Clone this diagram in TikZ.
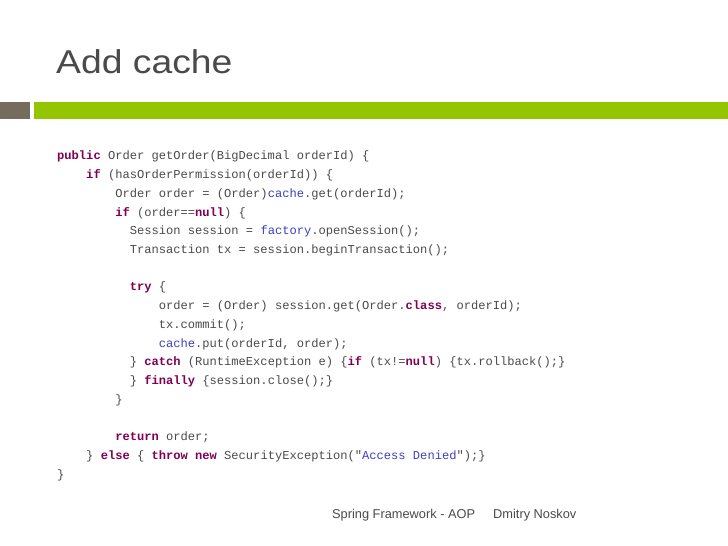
\documentclass[tikz,border=0pt]{standalone}
\usepackage{fontspec}
\setmainfont{Liberation Sans}
\newfontfamily\codefont{Liberation Mono}
\definecolor{kwc}{HTML}{7F0055}
\definecolor{blc}{HTML}{3F3FBF}
\definecolor{txc}{HTML}{4A4A4A}
\definecolor{barg}{HTML}{94C600}
\definecolor{barb}{HTML}{756C5D}
\newcommand{\kw}[1]{\textbf{\color{kwc}#1}}
\newcommand{\bl}[1]{{\color{blc}#1}}
\begin{document}
\begin{tikzpicture}[x=1pt,y=-1pt,
  cl/.style={anchor=base west,inner sep=0pt,font=\codefont\fontsize{12.1}{14}\selectfont,text=txc}]
\useasboundingbox (0,0) rectangle (728,546);
\fill[white] (0,0) rectangle (728,546);
\node[anchor=base west,inner sep=0pt,font=\fontsize{33}{36}\selectfont,text=txc,xscale=1.13] (title) at (56,73) {Add cache};
\fill[barb] (0,102) rectangle (30,119);
\fill[barg] (34,102) rectangle (728,119);
\def\cw{7.26}
\node[cl] (l1) at (57,159) {\kw{public} Order getOrder(BigDecimal orderId) \{};
\node[cl] (l2) at (57+4*\cw,178) {\kw{if} (hasOrderPermission(orderId)) \{};
\node[cl] (l3) at (57+8*\cw,197) {Order order = (Order)\bl{cache}.get(orderId);};
\node[cl] (l4) at (57+8*\cw,216) {\kw{if} (order==\kw{null}) \{};
\node[cl] (l5) at (57+10*\cw,234) {Session session = \bl{factory}.openSession();};
\node[cl] (l6) at (57+10*\cw,253) {Transaction tx = session.beginTransaction();};
\node[cl] (l7) at (57+10*\cw,290) {\kw{try} \{};
\node[cl] (l8) at (57+14*\cw,309) {order = (Order) session.get(Order.\kw{class}, orderId);};
\node[cl] (l9) at (57+14*\cw,328) {tx.commit();};
\node[cl] (l10) at (57+14*\cw,347) {\bl{cache}.put(orderId, order);};
\node[cl] (l11) at (57+10*\cw,365) {\} \kw{catch} (RuntimeException e) \{\kw{if} (tx!=\kw{null}) \{tx.rollback();\}};
\node[cl] (l12) at (57+10*\cw,384) {\} \kw{finally} \{session.close();\}};
\node[cl] (l13) at (57+8*\cw,403) {\}};
\node[cl] (l14) at (57+8*\cw,440) {\kw{return} order;};
\node[cl] (l15) at (57+4*\cw,459) {\} \kw{else} \{ \kw{throw} \kw{new} SecurityException("\bl{Access Denied}");\}};
\node[cl] (l16) at (57,478) {\}};
\node[anchor=base west,inner sep=0pt,font=\fontsize{12.8}{14}\selectfont,text=txc] (f1) at (332,518) {Spring Framework - AOP};
\node[anchor=base west,inner sep=0pt,font=\fontsize{12.8}{14}\selectfont,text=txc] (f2) at (493,518) {Dmitry Noskov};
\end{tikzpicture}
\end{document}
